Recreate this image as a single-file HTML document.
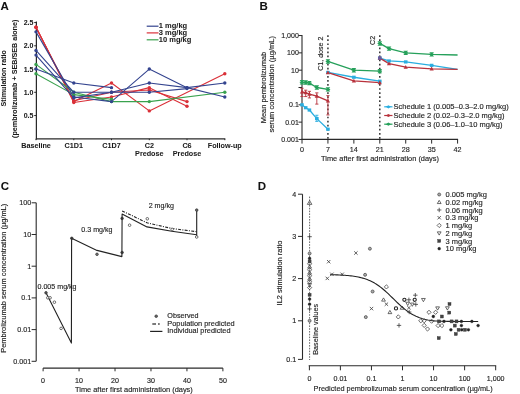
<!DOCTYPE html>
<html><head><meta charset="utf-8"><style>
html,body{margin:0;padding:0;background:#fff;}
svg{display:block;font-family:"Liberation Sans", sans-serif;filter:blur(0.4px);}
</style></head><body>
<svg width="520" height="394" viewBox="0 0 520 394">
<rect width="520" height="394" fill="#fff"/>
<text x="0.40" y="9.70" font-size="11.5" font-weight="bold" text-anchor="start" fill="#111" stroke="#111" stroke-width="0.05">A</text>
<line x1="36.40" y1="21.50" x2="36.40" y2="139.50" stroke="#2a2a2a" stroke-width="1.25"/>
<line x1="35.90" y1="138.90" x2="225.30" y2="138.90" stroke="#2a2a2a" stroke-width="1.25"/>
<line x1="34.20" y1="22.55" x2="36.40" y2="22.55" stroke="#2a2a2a" stroke-width="1"/>
<text x="33.40" y="25.05" font-size="7" font-weight="bold" text-anchor="end" fill="#1a1a1a" stroke="#1a1a1a" stroke-width="0.05">2.5</text>
<line x1="34.20" y1="45.80" x2="36.40" y2="45.80" stroke="#2a2a2a" stroke-width="1"/>
<text x="33.40" y="48.30" font-size="7" font-weight="bold" text-anchor="end" fill="#1a1a1a" stroke="#1a1a1a" stroke-width="0.05">2.0</text>
<line x1="34.20" y1="69.05" x2="36.40" y2="69.05" stroke="#2a2a2a" stroke-width="1"/>
<text x="33.40" y="71.55" font-size="7" font-weight="bold" text-anchor="end" fill="#1a1a1a" stroke="#1a1a1a" stroke-width="0.05">1.5</text>
<line x1="34.20" y1="92.30" x2="36.40" y2="92.30" stroke="#2a2a2a" stroke-width="1"/>
<text x="33.40" y="94.80" font-size="7" font-weight="bold" text-anchor="end" fill="#1a1a1a" stroke="#1a1a1a" stroke-width="0.05">1.0</text>
<line x1="34.20" y1="115.55" x2="36.40" y2="115.55" stroke="#2a2a2a" stroke-width="1"/>
<text x="33.40" y="118.05" font-size="7" font-weight="bold" text-anchor="end" fill="#1a1a1a" stroke="#1a1a1a" stroke-width="0.05">0.5</text>
<line x1="36.00" y1="138.80" x2="36.00" y2="140.20" stroke="#2a2a2a" stroke-width="1"/>
<line x1="73.80" y1="138.80" x2="73.80" y2="140.20" stroke="#2a2a2a" stroke-width="1"/>
<line x1="111.50" y1="138.80" x2="111.50" y2="140.20" stroke="#2a2a2a" stroke-width="1"/>
<line x1="149.30" y1="138.80" x2="149.30" y2="140.20" stroke="#2a2a2a" stroke-width="1"/>
<line x1="187.00" y1="138.80" x2="187.00" y2="140.20" stroke="#2a2a2a" stroke-width="1"/>
<line x1="224.80" y1="138.80" x2="224.80" y2="140.20" stroke="#2a2a2a" stroke-width="1"/>
<text x="36.00" y="148.20" font-size="7.2" font-weight="bold" text-anchor="middle" fill="#1a1a1a" stroke="#1a1a1a" stroke-width="0.05">Baseline</text>
<text x="73.80" y="148.20" font-size="7.2" font-weight="bold" text-anchor="middle" fill="#1a1a1a" stroke="#1a1a1a" stroke-width="0.05">C1D1</text>
<text x="111.50" y="148.20" font-size="7.2" font-weight="bold" text-anchor="middle" fill="#1a1a1a" stroke="#1a1a1a" stroke-width="0.05">C1D7</text>
<text x="149.30" y="148.20" font-size="7.2" font-weight="bold" text-anchor="middle" fill="#1a1a1a" stroke="#1a1a1a" stroke-width="0.05">C2</text>
<text x="149.30" y="155.70" font-size="7.2" font-weight="bold" text-anchor="middle" fill="#1a1a1a" stroke="#1a1a1a" stroke-width="0.05">Predose</text>
<text x="187.00" y="148.20" font-size="7.2" font-weight="bold" text-anchor="middle" fill="#1a1a1a" stroke="#1a1a1a" stroke-width="0.05">C6</text>
<text x="187.00" y="155.70" font-size="7.2" font-weight="bold" text-anchor="middle" fill="#1a1a1a" stroke="#1a1a1a" stroke-width="0.05">Predose</text>
<text x="224.80" y="148.20" font-size="7.2" font-weight="bold" text-anchor="middle" fill="#1a1a1a" stroke="#1a1a1a" stroke-width="0.05">Follow-up</text>
<text x="5.90" y="106.40" font-size="7.4" font-weight="bold" text-anchor="start" fill="#1a1a1a" stroke="#1a1a1a" stroke-width="0.05" transform="rotate(-90 5.90 106.40)" textLength="56.3" lengthAdjust="spacingAndGlyphs">Stimulation ratio</text>
<text x="16.50" y="138.00" font-size="7.4" font-weight="bold" text-anchor="start" fill="#1a1a1a" stroke="#1a1a1a" stroke-width="0.05" transform="rotate(-90 16.50 138.00)" textLength="118.3" lengthAdjust="spacingAndGlyphs">(pembrolizumab + SEB/SEB alone)</text>
<line x1="146.70" y1="26.20" x2="158.50" y2="26.20" stroke="#34448f" stroke-width="1.2"/>
<text x="158.80" y="28.30" font-size="7.5" font-weight="bold" text-anchor="start" fill="#1a1a1a" stroke="#1a1a1a" stroke-width="0.05">1 mg/kg</text>
<line x1="146.70" y1="32.90" x2="158.50" y2="32.90" stroke="#da3038" stroke-width="1.2"/>
<text x="158.80" y="35.00" font-size="7.5" font-weight="bold" text-anchor="start" fill="#1a1a1a" stroke="#1a1a1a" stroke-width="0.05">3 mg/kg</text>
<line x1="146.70" y1="39.80" x2="158.50" y2="39.80" stroke="#3aa24e" stroke-width="1.2"/>
<text x="158.80" y="41.70" font-size="7.5" font-weight="bold" text-anchor="start" fill="#1a1a1a" stroke="#1a1a1a" stroke-width="0.05">10 mg/kg</text>
<polyline points="36.00,27.20 73.80,101.60 111.50,83.00 149.30,110.90 224.80,73.70" fill="none" stroke="#da3038" stroke-width="1.1" stroke-linejoin="round"/>
<polyline points="36.00,27.20 73.80,102.53 111.50,96.95 149.30,87.65 187.00,106.25" fill="none" stroke="#da3038" stroke-width="1.1" stroke-linejoin="round"/>
<polyline points="36.00,27.20 73.80,100.67 111.50,92.30 149.30,89.98 187.00,101.60" fill="none" stroke="#da3038" stroke-width="1.1" stroke-linejoin="round"/>
<polyline points="36.00,64.40 73.80,92.30 111.50,101.60 149.30,101.60 224.80,92.30" fill="none" stroke="#3aa24e" stroke-width="1.1" stroke-linejoin="round"/>
<polyline points="36.00,73.70 73.80,94.63 111.50,99.28" fill="none" stroke="#3aa24e" stroke-width="1.1" stroke-linejoin="round"/>
<polyline points="36.00,31.85 73.80,96.95 111.50,101.60 149.30,69.05 187.00,87.65 224.80,96.95" fill="none" stroke="#34448f" stroke-width="1.1" stroke-linejoin="round"/>
<polyline points="36.00,50.45 73.80,92.30 111.50,92.30 149.30,83.00 187.00,87.65 224.80,83.00" fill="none" stroke="#34448f" stroke-width="1.1" stroke-linejoin="round"/>
<polyline points="36.00,55.10 73.80,97.88 111.50,92.30 149.30,92.30 187.00,88.58" fill="none" stroke="#34448f" stroke-width="1.1" stroke-linejoin="round"/>
<polyline points="36.00,69.05 73.80,83.00 111.50,87.65" fill="none" stroke="#34448f" stroke-width="1.1" stroke-linejoin="round"/>
<circle cx="36.00" cy="27.20" r="1.7" fill="#da3038" stroke="none" stroke-width="0.6"/>
<circle cx="73.80" cy="101.60" r="1.7" fill="#da3038" stroke="none" stroke-width="0.6"/>
<circle cx="111.50" cy="83.00" r="1.7" fill="#da3038" stroke="none" stroke-width="0.6"/>
<circle cx="149.30" cy="110.90" r="1.7" fill="#da3038" stroke="none" stroke-width="0.6"/>
<circle cx="224.80" cy="73.70" r="1.7" fill="#da3038" stroke="none" stroke-width="0.6"/>
<circle cx="36.00" cy="27.20" r="1.7" fill="#da3038" stroke="none" stroke-width="0.6"/>
<circle cx="73.80" cy="102.53" r="1.7" fill="#da3038" stroke="none" stroke-width="0.6"/>
<circle cx="111.50" cy="96.95" r="1.7" fill="#da3038" stroke="none" stroke-width="0.6"/>
<circle cx="149.30" cy="87.65" r="1.7" fill="#da3038" stroke="none" stroke-width="0.6"/>
<circle cx="187.00" cy="106.25" r="1.7" fill="#da3038" stroke="none" stroke-width="0.6"/>
<circle cx="36.00" cy="27.20" r="1.7" fill="#da3038" stroke="none" stroke-width="0.6"/>
<circle cx="73.80" cy="100.67" r="1.7" fill="#da3038" stroke="none" stroke-width="0.6"/>
<circle cx="111.50" cy="92.30" r="1.7" fill="#da3038" stroke="none" stroke-width="0.6"/>
<circle cx="149.30" cy="89.98" r="1.7" fill="#da3038" stroke="none" stroke-width="0.6"/>
<circle cx="187.00" cy="101.60" r="1.7" fill="#da3038" stroke="none" stroke-width="0.6"/>
<circle cx="36.00" cy="64.40" r="1.7" fill="#3aa24e" stroke="none" stroke-width="0.6"/>
<circle cx="73.80" cy="92.30" r="1.7" fill="#3aa24e" stroke="none" stroke-width="0.6"/>
<circle cx="111.50" cy="101.60" r="1.7" fill="#3aa24e" stroke="none" stroke-width="0.6"/>
<circle cx="149.30" cy="101.60" r="1.7" fill="#3aa24e" stroke="none" stroke-width="0.6"/>
<circle cx="224.80" cy="92.30" r="1.7" fill="#3aa24e" stroke="none" stroke-width="0.6"/>
<circle cx="36.00" cy="73.70" r="1.7" fill="#3aa24e" stroke="none" stroke-width="0.6"/>
<circle cx="73.80" cy="94.63" r="1.7" fill="#3aa24e" stroke="none" stroke-width="0.6"/>
<circle cx="111.50" cy="99.28" r="1.7" fill="#3aa24e" stroke="none" stroke-width="0.6"/>
<circle cx="36.00" cy="31.85" r="1.7" fill="#34448f" stroke="none" stroke-width="0.6"/>
<circle cx="73.80" cy="96.95" r="1.7" fill="#34448f" stroke="none" stroke-width="0.6"/>
<circle cx="111.50" cy="101.60" r="1.7" fill="#34448f" stroke="none" stroke-width="0.6"/>
<circle cx="149.30" cy="69.05" r="1.7" fill="#34448f" stroke="none" stroke-width="0.6"/>
<circle cx="187.00" cy="87.65" r="1.7" fill="#34448f" stroke="none" stroke-width="0.6"/>
<circle cx="224.80" cy="96.95" r="1.7" fill="#34448f" stroke="none" stroke-width="0.6"/>
<circle cx="36.00" cy="50.45" r="1.7" fill="#34448f" stroke="none" stroke-width="0.6"/>
<circle cx="73.80" cy="92.30" r="1.7" fill="#34448f" stroke="none" stroke-width="0.6"/>
<circle cx="111.50" cy="92.30" r="1.7" fill="#34448f" stroke="none" stroke-width="0.6"/>
<circle cx="149.30" cy="83.00" r="1.7" fill="#34448f" stroke="none" stroke-width="0.6"/>
<circle cx="187.00" cy="87.65" r="1.7" fill="#34448f" stroke="none" stroke-width="0.6"/>
<circle cx="224.80" cy="83.00" r="1.7" fill="#34448f" stroke="none" stroke-width="0.6"/>
<circle cx="36.00" cy="55.10" r="1.7" fill="#34448f" stroke="none" stroke-width="0.6"/>
<circle cx="73.80" cy="97.88" r="1.7" fill="#34448f" stroke="none" stroke-width="0.6"/>
<circle cx="111.50" cy="92.30" r="1.7" fill="#34448f" stroke="none" stroke-width="0.6"/>
<circle cx="149.30" cy="92.30" r="1.7" fill="#34448f" stroke="none" stroke-width="0.6"/>
<circle cx="187.00" cy="88.58" r="1.7" fill="#34448f" stroke="none" stroke-width="0.6"/>
<circle cx="36.00" cy="69.05" r="1.7" fill="#34448f" stroke="none" stroke-width="0.6"/>
<circle cx="73.80" cy="83.00" r="1.7" fill="#34448f" stroke="none" stroke-width="0.6"/>
<circle cx="111.50" cy="87.65" r="1.7" fill="#34448f" stroke="none" stroke-width="0.6"/>
<text x="259.60" y="9.70" font-size="11.5" font-weight="bold" text-anchor="start" fill="#111" stroke="#111" stroke-width="0.05">B</text>
<line x1="302.00" y1="35.00" x2="302.00" y2="139.60" stroke="#2a2a2a" stroke-width="1.1"/>
<line x1="301.50" y1="139.40" x2="458.08" y2="139.40" stroke="#2a2a2a" stroke-width="1.1"/>
<line x1="298.50" y1="35.54" x2="302.00" y2="35.54" stroke="#2a2a2a" stroke-width="1"/>
<text x="298.80" y="38.04" font-size="7" text-anchor="end" fill="#1e1e1e" stroke="#1e1e1e" stroke-width="0.14">1,000</text>
<line x1="298.50" y1="52.86" x2="302.00" y2="52.86" stroke="#2a2a2a" stroke-width="1"/>
<text x="298.80" y="55.36" font-size="7" text-anchor="end" fill="#1e1e1e" stroke="#1e1e1e" stroke-width="0.14">100</text>
<line x1="298.50" y1="70.18" x2="302.00" y2="70.18" stroke="#2a2a2a" stroke-width="1"/>
<text x="298.80" y="72.68" font-size="7" text-anchor="end" fill="#1e1e1e" stroke="#1e1e1e" stroke-width="0.14">10</text>
<line x1="298.50" y1="87.50" x2="302.00" y2="87.50" stroke="#2a2a2a" stroke-width="1"/>
<line x1="298.50" y1="104.82" x2="302.00" y2="104.82" stroke="#2a2a2a" stroke-width="1"/>
<text x="298.80" y="107.32" font-size="7" text-anchor="end" fill="#1e1e1e" stroke="#1e1e1e" stroke-width="0.14">0.1</text>
<line x1="298.50" y1="122.14" x2="302.00" y2="122.14" stroke="#2a2a2a" stroke-width="1"/>
<text x="298.80" y="124.64" font-size="7" text-anchor="end" fill="#1e1e1e" stroke="#1e1e1e" stroke-width="0.14">0.01</text>
<line x1="298.50" y1="139.46" x2="302.00" y2="139.46" stroke="#2a2a2a" stroke-width="1"/>
<text x="298.80" y="141.96" font-size="7" text-anchor="end" fill="#1e1e1e" stroke="#1e1e1e" stroke-width="0.14">0.001</text>
<line x1="302.00" y1="139.40" x2="302.00" y2="143.60" stroke="#2a2a2a" stroke-width="1"/>
<text x="302.00" y="151.70" font-size="7.2" text-anchor="middle" fill="#1e1e1e" stroke="#1e1e1e" stroke-width="0.14">0</text>
<line x1="327.93" y1="139.40" x2="327.93" y2="143.60" stroke="#2a2a2a" stroke-width="1"/>
<text x="327.93" y="151.70" font-size="7.2" text-anchor="middle" fill="#1e1e1e" stroke="#1e1e1e" stroke-width="0.14">7</text>
<line x1="353.86" y1="139.40" x2="353.86" y2="143.60" stroke="#2a2a2a" stroke-width="1"/>
<text x="353.86" y="151.70" font-size="7.2" text-anchor="middle" fill="#1e1e1e" stroke="#1e1e1e" stroke-width="0.14">14</text>
<line x1="379.79" y1="139.40" x2="379.79" y2="143.60" stroke="#2a2a2a" stroke-width="1"/>
<text x="379.79" y="151.70" font-size="7.2" text-anchor="middle" fill="#1e1e1e" stroke="#1e1e1e" stroke-width="0.14">21</text>
<line x1="405.72" y1="139.40" x2="405.72" y2="143.60" stroke="#2a2a2a" stroke-width="1"/>
<text x="405.72" y="151.70" font-size="7.2" text-anchor="middle" fill="#1e1e1e" stroke="#1e1e1e" stroke-width="0.14">28</text>
<line x1="431.65" y1="139.40" x2="431.65" y2="143.60" stroke="#2a2a2a" stroke-width="1"/>
<text x="431.65" y="151.70" font-size="7.2" text-anchor="middle" fill="#1e1e1e" stroke="#1e1e1e" stroke-width="0.14">35</text>
<line x1="457.58" y1="139.40" x2="457.58" y2="143.60" stroke="#2a2a2a" stroke-width="1"/>
<text x="457.58" y="151.70" font-size="7.2" text-anchor="middle" fill="#1e1e1e" stroke="#1e1e1e" stroke-width="0.14">42</text>
<text x="321.00" y="161.20" font-size="7.5" text-anchor="start" fill="#1e1e1e" stroke="#1e1e1e" stroke-width="0.14" textLength="118.0" lengthAdjust="spacingAndGlyphs">Time after first administration (days)</text>
<text x="265.60" y="123.20" font-size="7.5" text-anchor="start" fill="#1e1e1e" stroke="#1e1e1e" stroke-width="0.14" transform="rotate(-90 265.60 123.20)" textLength="71.4" lengthAdjust="spacingAndGlyphs">Mean pembrolizumab</text>
<text x="273.80" y="132.60" font-size="7.5" text-anchor="start" fill="#1e1e1e" stroke="#1e1e1e" stroke-width="0.14" transform="rotate(-90 273.80 132.60)" textLength="96.6" lengthAdjust="spacingAndGlyphs">serum concentration (µg/mL)</text>
<line x1="327.93" y1="35.25" x2="327.93" y2="139.40" stroke="#333" stroke-width="1.5" stroke-dasharray="1.7 2.37"/>
<line x1="379.79" y1="35.25" x2="379.79" y2="139.40" stroke="#333" stroke-width="1.5" stroke-dasharray="1.7 2.37"/>
<text x="323.20" y="70.80" font-size="7.1" text-anchor="start" fill="#1e1e1e" stroke="#1e1e1e" stroke-width="0.14" transform="rotate(-90 323.20 70.80)" textLength="34.2" lengthAdjust="spacingAndGlyphs">C1, dose 2</text>
<text x="375.50" y="44.90" font-size="7.1" text-anchor="start" fill="#1e1e1e" stroke="#1e1e1e" stroke-width="0.14" transform="rotate(-90 375.50 44.90)">C2</text>
<polyline points="302.00,104.82 305.70,107.72 309.41,110.03 316.82,118.60 327.93,129.22" fill="none" stroke="#2aaee0" stroke-width="1.3" stroke-linejoin="round"/>
<polyline points="327.93,72.44 353.86,77.26 379.79,81.23" fill="none" stroke="#2aaee0" stroke-width="1.3" stroke-linejoin="round"/>
<polyline points="379.79,58.07 389.05,60.97 405.72,61.92 431.65,65.35 457.58,69.46" fill="none" stroke="#2aaee0" stroke-width="1.3" stroke-linejoin="round"/>
<polyline points="302.00,92.00 305.70,92.71 309.41,94.03 316.82,96.07 327.93,100.83" fill="none" stroke="#b8323c" stroke-width="1.3" stroke-linejoin="round"/>
<polyline points="327.93,72.65 353.86,80.91 379.79,82.67" fill="none" stroke="#b8323c" stroke-width="1.3" stroke-linejoin="round"/>
<polyline points="379.79,58.07 389.05,63.59 405.72,67.13 431.65,68.81 457.58,69.46" fill="none" stroke="#b8323c" stroke-width="1.3" stroke-linejoin="round"/>
<polyline points="302.00,82.29 305.70,82.48 309.41,83.08 316.82,87.50 327.93,89.37" fill="none" stroke="#25a05a" stroke-width="1.3" stroke-linejoin="round"/>
<polyline points="327.93,61.43 353.86,70.18 379.79,71.14" fill="none" stroke="#25a05a" stroke-width="1.3" stroke-linejoin="round"/>
<polyline points="379.79,43.44 389.05,48.65 405.72,52.86 431.65,54.35 457.58,55.02" fill="none" stroke="#25a05a" stroke-width="1.3" stroke-linejoin="round"/>
<line x1="302.00" y1="88.29" x2="302.00" y2="96.56" stroke="#b8323c" stroke-width="0.9"/>
<line x1="300.40" y1="88.29" x2="303.60" y2="88.29" stroke="#b8323c" stroke-width="0.9"/>
<line x1="300.40" y1="96.56" x2="303.60" y2="96.56" stroke="#b8323c" stroke-width="0.9"/>
<line x1="305.70" y1="90.18" x2="305.70" y2="96.56" stroke="#b8323c" stroke-width="0.9"/>
<line x1="304.10" y1="90.18" x2="307.30" y2="90.18" stroke="#b8323c" stroke-width="0.9"/>
<line x1="304.10" y1="96.56" x2="307.30" y2="96.56" stroke="#b8323c" stroke-width="0.9"/>
<line x1="309.41" y1="91.34" x2="309.41" y2="97.93" stroke="#b8323c" stroke-width="0.9"/>
<line x1="307.81" y1="91.34" x2="311.01" y2="91.34" stroke="#b8323c" stroke-width="0.9"/>
<line x1="307.81" y1="97.93" x2="311.01" y2="97.93" stroke="#b8323c" stroke-width="0.9"/>
<line x1="316.82" y1="92.87" x2="316.82" y2="104.10" stroke="#b8323c" stroke-width="0.9"/>
<line x1="315.22" y1="92.87" x2="318.42" y2="92.87" stroke="#b8323c" stroke-width="0.9"/>
<line x1="315.22" y1="104.10" x2="318.42" y2="104.10" stroke="#b8323c" stroke-width="0.9"/>
<line x1="327.93" y1="95.61" x2="327.93" y2="114.95" stroke="#b8323c" stroke-width="0.9"/>
<line x1="326.33" y1="95.61" x2="329.53" y2="95.61" stroke="#b8323c" stroke-width="0.9"/>
<line x1="326.33" y1="114.95" x2="329.53" y2="114.95" stroke="#b8323c" stroke-width="0.9"/>
<line x1="316.82" y1="115.25" x2="316.82" y2="121.42" stroke="#2aaee0" stroke-width="0.9"/>
<line x1="315.22" y1="115.25" x2="318.42" y2="115.25" stroke="#2aaee0" stroke-width="0.9"/>
<line x1="315.22" y1="121.42" x2="318.42" y2="121.42" stroke="#2aaee0" stroke-width="0.9"/>
<rect x="300.20" y="103.22" width="3.6" height="3.2" fill="#2aaee0"/>
<rect x="303.90" y="106.12" width="3.6" height="3.2" fill="#2aaee0"/>
<rect x="307.61" y="108.43" width="3.6" height="3.2" fill="#2aaee0"/>
<rect x="315.02" y="117.00" width="3.6" height="3.2" fill="#2aaee0"/>
<rect x="326.13" y="127.62" width="3.6" height="3.2" fill="#2aaee0"/>
<rect x="326.13" y="70.84" width="3.6" height="3.2" fill="#2aaee0"/>
<rect x="352.06" y="75.66" width="3.6" height="3.2" fill="#2aaee0"/>
<rect x="377.99" y="79.63" width="3.6" height="3.2" fill="#2aaee0"/>
<rect x="377.99" y="56.47" width="3.6" height="3.2" fill="#2aaee0"/>
<rect x="387.25" y="59.37" width="3.6" height="3.2" fill="#2aaee0"/>
<rect x="403.92" y="60.32" width="3.6" height="3.2" fill="#2aaee0"/>
<rect x="429.85" y="63.75" width="3.6" height="3.2" fill="#2aaee0"/>
<path d="M302.00,89.80 L304.10,93.60 L299.90,93.60 Z" fill="#b8323c"/>
<path d="M305.70,90.51 L307.80,94.31 L303.60,94.31 Z" fill="#b8323c"/>
<path d="M309.41,91.83 L311.51,95.63 L307.31,95.63 Z" fill="#b8323c"/>
<path d="M316.82,93.87 L318.92,97.67 L314.72,97.67 Z" fill="#b8323c"/>
<path d="M327.93,98.63 L330.03,102.43 L325.83,102.43 Z" fill="#b8323c"/>
<path d="M327.93,70.45 L330.03,74.25 L325.83,74.25 Z" fill="#b8323c"/>
<path d="M353.86,78.71 L355.96,82.51 L351.76,82.51 Z" fill="#b8323c"/>
<path d="M379.79,80.47 L381.89,84.27 L377.69,84.27 Z" fill="#b8323c"/>
<path d="M379.79,55.87 L381.89,59.67 L377.69,59.67 Z" fill="#b8323c"/>
<path d="M389.05,61.39 L391.15,65.19 L386.95,65.19 Z" fill="#b8323c"/>
<path d="M405.72,64.93 L407.82,68.73 L403.62,68.73 Z" fill="#b8323c"/>
<path d="M431.65,66.61 L433.75,70.41 L429.55,70.41 Z" fill="#b8323c"/>
<path d="M299.70,80.09 H304.30 L302.70,82.29 L304.30,84.49 H299.70 L301.30,82.29 Z" fill="#25a05a"/>
<line x1="299.80" y1="82.29" x2="304.20" y2="82.29" stroke="#25a05a" stroke-width="1.2"/>
<path d="M303.40,80.28 H308.00 L306.40,82.48 L308.00,84.68 H303.40 L305.00,82.48 Z" fill="#25a05a"/>
<line x1="303.50" y1="82.48" x2="307.90" y2="82.48" stroke="#25a05a" stroke-width="1.2"/>
<path d="M307.11,80.88 H311.71 L310.11,83.08 L311.71,85.28 H307.11 L308.71,83.08 Z" fill="#25a05a"/>
<line x1="307.21" y1="83.08" x2="311.61" y2="83.08" stroke="#25a05a" stroke-width="1.2"/>
<path d="M314.52,85.30 H319.12 L317.52,87.50 L319.12,89.70 H314.52 L316.12,87.50 Z" fill="#25a05a"/>
<line x1="314.62" y1="87.50" x2="319.02" y2="87.50" stroke="#25a05a" stroke-width="1.2"/>
<path d="M325.63,87.17 H330.23 L328.63,89.37 L330.23,91.57 H325.63 L327.23,89.37 Z" fill="#25a05a"/>
<line x1="325.73" y1="89.37" x2="330.13" y2="89.37" stroke="#25a05a" stroke-width="1.2"/>
<path d="M325.63,59.23 H330.23 L328.63,61.43 L330.23,63.63 H325.63 L327.23,61.43 Z" fill="#25a05a"/>
<line x1="325.73" y1="61.43" x2="330.13" y2="61.43" stroke="#25a05a" stroke-width="1.2"/>
<path d="M351.56,67.98 H356.16 L354.56,70.18 L356.16,72.38 H351.56 L353.16,70.18 Z" fill="#25a05a"/>
<line x1="351.66" y1="70.18" x2="356.06" y2="70.18" stroke="#25a05a" stroke-width="1.2"/>
<path d="M377.49,68.94 H382.09 L380.49,71.14 L382.09,73.34 H377.49 L379.09,71.14 Z" fill="#25a05a"/>
<line x1="377.59" y1="71.14" x2="381.99" y2="71.14" stroke="#25a05a" stroke-width="1.2"/>
<path d="M377.49,41.24 H382.09 L380.49,43.44 L382.09,45.64 H377.49 L379.09,43.44 Z" fill="#25a05a"/>
<line x1="377.59" y1="43.44" x2="381.99" y2="43.44" stroke="#25a05a" stroke-width="1.2"/>
<path d="M386.75,46.45 H391.35 L389.75,48.65 L391.35,50.85 H386.75 L388.35,48.65 Z" fill="#25a05a"/>
<line x1="386.85" y1="48.65" x2="391.25" y2="48.65" stroke="#25a05a" stroke-width="1.2"/>
<path d="M403.42,50.66 H408.02 L406.42,52.86 L408.02,55.06 H403.42 L405.02,52.86 Z" fill="#25a05a"/>
<line x1="403.52" y1="52.86" x2="407.92" y2="52.86" stroke="#25a05a" stroke-width="1.2"/>
<path d="M429.35,52.15 H433.95 L432.35,54.35 L433.95,56.55 H429.35 L430.95,54.35 Z" fill="#25a05a"/>
<line x1="429.45" y1="54.35" x2="433.85" y2="54.35" stroke="#25a05a" stroke-width="1.2"/>
<rect x="377.99" y="56.47" width="3.6" height="3.2" fill="#6a5a9e"/>
<line x1="384.20" y1="106.80" x2="392.50" y2="106.80" stroke="#2aaee0" stroke-width="1.2"/>
<path d="M385.80,106.80 L388.40,105.20 L391.00,106.80 L388.40,108.40 Z" fill="#2aaee0"/>
<text x="393.60" y="109.40" font-size="7.5" text-anchor="start" fill="#1e1e1e" stroke="#1e1e1e" stroke-width="0.14">Schedule 1 (0.005–0.3–2.0 mg/kg)</text>
<line x1="384.20" y1="115.50" x2="392.50" y2="115.50" stroke="#b8323c" stroke-width="1.2"/>
<path d="M385.80,115.50 L388.40,113.90 L391.00,115.50 L388.40,117.10 Z" fill="#b8323c"/>
<text x="393.60" y="118.10" font-size="7.5" text-anchor="start" fill="#1e1e1e" stroke="#1e1e1e" stroke-width="0.14">Schedule 2 (0.02–0.3–2.0 mg/kg)</text>
<line x1="384.20" y1="124.20" x2="392.50" y2="124.20" stroke="#25a05a" stroke-width="1.2"/>
<path d="M385.80,124.20 L388.40,122.60 L391.00,124.20 L388.40,125.80 Z" fill="#25a05a"/>
<text x="393.60" y="126.80" font-size="7.5" text-anchor="start" fill="#1e1e1e" stroke="#1e1e1e" stroke-width="0.14">Schedule 3 (0.06–1.0–10 mg/kg)</text>
<text x="0.70" y="190.00" font-size="11.5" font-weight="bold" text-anchor="start" fill="#111" stroke="#111" stroke-width="0.05">C</text>
<line x1="36.20" y1="202.80" x2="36.20" y2="361.30" stroke="#2a2a2a" stroke-width="1.1"/>
<line x1="31.60" y1="202.80" x2="36.20" y2="202.80" stroke="#2a2a2a" stroke-width="1"/>
<text x="31.20" y="205.30" font-size="7.2" text-anchor="end" fill="#1e1e1e" stroke="#1e1e1e" stroke-width="0.14">100</text>
<line x1="31.60" y1="234.50" x2="36.20" y2="234.50" stroke="#2a2a2a" stroke-width="1"/>
<text x="31.20" y="237.00" font-size="7.2" text-anchor="end" fill="#1e1e1e" stroke="#1e1e1e" stroke-width="0.14">10</text>
<line x1="31.60" y1="266.20" x2="36.20" y2="266.20" stroke="#2a2a2a" stroke-width="1"/>
<text x="31.20" y="268.70" font-size="7.2" text-anchor="end" fill="#1e1e1e" stroke="#1e1e1e" stroke-width="0.14">1</text>
<line x1="31.60" y1="297.90" x2="36.20" y2="297.90" stroke="#2a2a2a" stroke-width="1"/>
<text x="31.20" y="300.40" font-size="7.2" text-anchor="end" fill="#1e1e1e" stroke="#1e1e1e" stroke-width="0.14">0.1</text>
<line x1="31.60" y1="329.60" x2="36.20" y2="329.60" stroke="#2a2a2a" stroke-width="1"/>
<text x="31.20" y="332.10" font-size="7.2" text-anchor="end" fill="#1e1e1e" stroke="#1e1e1e" stroke-width="0.14">0.01</text>
<line x1="31.60" y1="361.30" x2="36.20" y2="361.30" stroke="#2a2a2a" stroke-width="1"/>
<text x="31.20" y="363.80" font-size="7.2" text-anchor="end" fill="#1e1e1e" stroke="#1e1e1e" stroke-width="0.14">0.001</text>
<line x1="43.10" y1="368.10" x2="222.90" y2="368.10" stroke="#2a2a2a" stroke-width="1.1"/>
<line x1="43.10" y1="368.10" x2="43.10" y2="371.30" stroke="#2a2a2a" stroke-width="1"/>
<text x="43.10" y="383.00" font-size="7.1" text-anchor="middle" fill="#1e1e1e" stroke="#1e1e1e" stroke-width="0.14">0</text>
<line x1="79.06" y1="368.10" x2="79.06" y2="371.30" stroke="#2a2a2a" stroke-width="1"/>
<text x="79.06" y="383.00" font-size="7.1" text-anchor="middle" fill="#1e1e1e" stroke="#1e1e1e" stroke-width="0.14">10</text>
<line x1="115.02" y1="368.10" x2="115.02" y2="371.30" stroke="#2a2a2a" stroke-width="1"/>
<text x="115.02" y="383.00" font-size="7.1" text-anchor="middle" fill="#1e1e1e" stroke="#1e1e1e" stroke-width="0.14">20</text>
<line x1="150.98" y1="368.10" x2="150.98" y2="371.30" stroke="#2a2a2a" stroke-width="1"/>
<text x="150.98" y="383.00" font-size="7.1" text-anchor="middle" fill="#1e1e1e" stroke="#1e1e1e" stroke-width="0.14">30</text>
<line x1="186.94" y1="368.10" x2="186.94" y2="371.30" stroke="#2a2a2a" stroke-width="1"/>
<text x="186.94" y="383.00" font-size="7.1" text-anchor="middle" fill="#1e1e1e" stroke="#1e1e1e" stroke-width="0.14">40</text>
<line x1="222.90" y1="368.10" x2="222.90" y2="371.30" stroke="#2a2a2a" stroke-width="1"/>
<text x="222.90" y="383.00" font-size="7.1" text-anchor="middle" fill="#1e1e1e" stroke="#1e1e1e" stroke-width="0.14">50</text>
<text x="75.00" y="392.10" font-size="7.4" text-anchor="start" fill="#1e1e1e" stroke="#1e1e1e" stroke-width="0.14" textLength="117.8" lengthAdjust="spacingAndGlyphs">Time after first administration (days)</text>
<text x="6.30" y="352.80" font-size="7.4" text-anchor="start" fill="#1e1e1e" stroke="#1e1e1e" stroke-width="0.14" transform="rotate(-90 6.30 352.80)" textLength="149.0" lengthAdjust="spacingAndGlyphs">Pembrolizumab serum concentration (µg/mL)</text>
<polyline points="46.00,292.80 71.40,343.10 71.60,238.30 97.00,250.40 121.90,256.60 122.10,214.00 147.00,226.90 171.80,231.20 196.70,234.70" fill="none" stroke="#222" stroke-width="1.1" stroke-linejoin="round"/>
<polyline points="122.10,210.90 147.00,222.80 172.00,228.50 196.70,231.70" fill="none" stroke="#222" stroke-width="1.1" stroke-linejoin="round" stroke-dasharray="3 1.3 1 1.3"/>
<line x1="196.70" y1="210.10" x2="196.70" y2="237.00" stroke="#222" stroke-width="1.1"/>
<circle cx="46.00" cy="292.80" r="1.3" fill="#555" stroke="#333" stroke-width="0.7"/>
<circle cx="47.80" cy="297.80" r="1.3" fill="#fff" stroke="#333" stroke-width="0.7"/>
<circle cx="50.10" cy="297.80" r="1.3" fill="#fff" stroke="#333" stroke-width="0.7"/>
<circle cx="54.40" cy="302.20" r="1.3" fill="#fff" stroke="#333" stroke-width="0.7"/>
<circle cx="61.10" cy="328.40" r="1.3" fill="#fff" stroke="#333" stroke-width="0.7"/>
<circle cx="71.80" cy="238.30" r="1.3" fill="#333" stroke="#333" stroke-width="0.7"/>
<circle cx="97.00" cy="254.30" r="1.3" fill="#777" stroke="#333" stroke-width="0.7"/>
<circle cx="122.10" cy="218.40" r="1.3" fill="#333" stroke="#333" stroke-width="0.7"/>
<circle cx="122.10" cy="252.50" r="1.3" fill="#333" stroke="#333" stroke-width="0.7"/>
<circle cx="129.60" cy="225.20" r="1.3" fill="#fff" stroke="#333" stroke-width="0.7"/>
<circle cx="147.30" cy="218.80" r="1.3" fill="#fff" stroke="#333" stroke-width="0.7"/>
<circle cx="172.20" cy="229.40" r="1.3" fill="#fff" stroke="#333" stroke-width="0.7"/>
<circle cx="196.70" cy="210.10" r="1.3" fill="#666" stroke="#333" stroke-width="0.7"/>
<circle cx="196.70" cy="237.00" r="1.3" fill="#fff" stroke="#333" stroke-width="0.7"/>
<text x="37.50" y="289.00" font-size="7.1" text-anchor="start" fill="#1e1e1e" stroke="#1e1e1e" stroke-width="0.14">0.005 mg/kg</text>
<text x="81.30" y="231.80" font-size="7.1" text-anchor="start" fill="#1e1e1e" stroke="#1e1e1e" stroke-width="0.14">0.3 mg/kg</text>
<text x="148.70" y="208.00" font-size="7.1" text-anchor="start" fill="#1e1e1e" stroke="#1e1e1e" stroke-width="0.14">2 mg/kg</text>
<circle cx="156.20" cy="316.20" r="1.3" fill="#666" stroke="#333" stroke-width="0.7"/>
<text x="167.30" y="317.60" font-size="7.3" text-anchor="start" fill="#1e1e1e" stroke="#1e1e1e" stroke-width="0.14" textLength="31.2" lengthAdjust="spacingAndGlyphs">Observed</text>
<line x1="152.30" y1="324.00" x2="156.00" y2="324.00" stroke="#222" stroke-width="1.2"/>
<line x1="158.20" y1="324.00" x2="159.60" y2="324.00" stroke="#222" stroke-width="1.3"/>
<text x="167.30" y="325.80" font-size="7.4" text-anchor="start" fill="#1e1e1e" stroke="#1e1e1e" stroke-width="0.14" textLength="67.3" lengthAdjust="spacingAndGlyphs">Population predicted</text>
<line x1="150.10" y1="331.40" x2="162.40" y2="331.40" stroke="#222" stroke-width="1.2"/>
<text x="167.30" y="333.20" font-size="7.4" text-anchor="start" fill="#1e1e1e" stroke="#1e1e1e" stroke-width="0.14" textLength="63.2" lengthAdjust="spacingAndGlyphs">Individual predicted</text>
<text x="257.70" y="190.00" font-size="11.5" font-weight="bold" text-anchor="start" fill="#111" stroke="#111" stroke-width="0.05">D</text>
<line x1="302.50" y1="194.20" x2="302.50" y2="359.40" stroke="#2a2a2a" stroke-width="1.1"/>
<line x1="298.00" y1="194.20" x2="302.50" y2="194.20" stroke="#2a2a2a" stroke-width="1"/>
<text x="296.20" y="196.70" font-size="7.1" text-anchor="end" fill="#1e1e1e" stroke="#1e1e1e" stroke-width="0.14">4</text>
<line x1="298.00" y1="236.40" x2="302.50" y2="236.40" stroke="#2a2a2a" stroke-width="1"/>
<text x="296.20" y="238.90" font-size="7.1" text-anchor="end" fill="#1e1e1e" stroke="#1e1e1e" stroke-width="0.14">3</text>
<line x1="298.00" y1="278.60" x2="302.50" y2="278.60" stroke="#2a2a2a" stroke-width="1"/>
<text x="296.20" y="281.10" font-size="7.1" text-anchor="end" fill="#1e1e1e" stroke="#1e1e1e" stroke-width="0.14">2</text>
<line x1="298.00" y1="320.80" x2="302.50" y2="320.80" stroke="#2a2a2a" stroke-width="1"/>
<text x="296.20" y="323.30" font-size="7.1" text-anchor="end" fill="#1e1e1e" stroke="#1e1e1e" stroke-width="0.14">1</text>
<line x1="298.00" y1="359.40" x2="302.50" y2="359.40" stroke="#2a2a2a" stroke-width="1"/>
<text x="296.20" y="361.90" font-size="7.1" text-anchor="end" fill="#1e1e1e" stroke="#1e1e1e" stroke-width="0.14">0.1</text>
<line x1="308.70" y1="365.80" x2="496.18" y2="365.80" stroke="#2a2a2a" stroke-width="1.1"/>
<line x1="309.40" y1="365.80" x2="309.40" y2="370.30" stroke="#2a2a2a" stroke-width="1"/>
<text x="309.40" y="380.90" font-size="7.1" text-anchor="middle" fill="#1e1e1e" stroke="#1e1e1e" stroke-width="0.14">0</text>
<line x1="340.38" y1="365.80" x2="340.38" y2="370.30" stroke="#2a2a2a" stroke-width="1"/>
<text x="340.38" y="380.90" font-size="7.1" text-anchor="middle" fill="#1e1e1e" stroke="#1e1e1e" stroke-width="0.14">0.01</text>
<line x1="371.44" y1="365.80" x2="371.44" y2="370.30" stroke="#2a2a2a" stroke-width="1"/>
<text x="371.44" y="380.90" font-size="7.1" text-anchor="middle" fill="#1e1e1e" stroke="#1e1e1e" stroke-width="0.14">0.1</text>
<line x1="402.50" y1="365.80" x2="402.50" y2="370.30" stroke="#2a2a2a" stroke-width="1"/>
<text x="402.50" y="380.90" font-size="7.1" text-anchor="middle" fill="#1e1e1e" stroke="#1e1e1e" stroke-width="0.14">1</text>
<line x1="433.56" y1="365.80" x2="433.56" y2="370.30" stroke="#2a2a2a" stroke-width="1"/>
<text x="433.56" y="380.90" font-size="7.1" text-anchor="middle" fill="#1e1e1e" stroke="#1e1e1e" stroke-width="0.14">10</text>
<line x1="464.62" y1="365.80" x2="464.62" y2="370.30" stroke="#2a2a2a" stroke-width="1"/>
<text x="464.62" y="380.90" font-size="7.1" text-anchor="middle" fill="#1e1e1e" stroke="#1e1e1e" stroke-width="0.14">100</text>
<line x1="495.68" y1="365.80" x2="495.68" y2="370.30" stroke="#2a2a2a" stroke-width="1"/>
<text x="495.68" y="380.90" font-size="7.1" text-anchor="middle" fill="#1e1e1e" stroke="#1e1e1e" stroke-width="0.14">1,000</text>
<text x="313.60" y="391.00" font-size="7.4" text-anchor="start" fill="#1e1e1e" stroke="#1e1e1e" stroke-width="0.14" textLength="179.0" lengthAdjust="spacingAndGlyphs">Predicted pembrolizumab serum concentration (µg/mL)</text>
<text x="282.30" y="305.40" font-size="7.4" text-anchor="start" fill="#1e1e1e" stroke="#1e1e1e" stroke-width="0.14" transform="rotate(-90 282.30 305.40)" textLength="64.8" lengthAdjust="spacingAndGlyphs">IL2 stimulation ratio</text>
<line x1="309.60" y1="196.60" x2="309.60" y2="360.00" stroke="#444" stroke-width="0.8" stroke-dasharray="1.6 1.2"/>
<text x="318.50" y="354.80" font-size="7.3" text-anchor="start" fill="#1e1e1e" stroke="#1e1e1e" stroke-width="0.14" transform="rotate(-90 318.50 354.80)" textLength="50.9" lengthAdjust="spacingAndGlyphs">Baseline values</text>
<polyline points="330.20,274.66 331.68,274.70 333.15,274.74 334.63,274.79 336.11,274.84 337.59,274.90 339.07,274.96 340.55,275.03 342.03,275.12 343.51,275.21 344.99,275.31 346.47,275.43 347.95,275.56 349.43,275.71 350.91,275.87 352.39,276.06 353.87,276.27 355.35,276.50 356.83,276.76 358.31,277.04 359.79,277.37 361.27,277.72 362.75,278.12 364.23,278.55 365.71,279.04 367.19,279.57 368.67,280.16 370.15,280.80 371.63,281.50 373.11,282.27 374.59,283.10 376.07,283.99 377.55,284.95 379.03,285.98 380.51,287.08 381.99,288.24 383.47,289.47 384.94,290.75 386.42,292.08 387.90,293.45 389.38,294.86 390.86,296.29 392.34,297.75 393.82,299.20 395.30,300.65 396.78,302.09 398.26,303.50 399.74,304.88 401.22,306.22 402.70,307.50 404.18,308.73 405.66,309.90 407.14,311.00 408.62,312.03 410.10,313.00 411.58,313.91 413.06,314.74 414.54,315.51 416.02,316.22 417.50,316.87 418.98,317.46 420.46,317.99 421.94,318.48 423.42,318.92 424.90,319.32 426.38,319.68 427.86,320.01 429.34,320.30 430.82,320.56 432.30,320.79 433.78,320.88 435.26,320.96 436.74,321.02 438.21,321.08 439.69,321.14 441.17,321.18 442.65,321.23 444.13,321.27 445.61,321.30 447.09,321.33 448.57,321.36 450.05,321.38 451.53,321.40 453.01,321.42 454.49,321.44 455.97,321.45 457.45,321.47 458.93,321.48 460.41,321.49 461.89,321.50 463.37,321.51 464.85,321.51 466.33,321.52 467.81,321.53 469.29,321.53 470.77,321.54 472.25,321.54 473.73,321.54 475.21,321.55 476.69,321.55 478.17,321.55" fill="none" stroke="#222" stroke-width="1.1" stroke-linejoin="round"/>
<circle cx="439.20" cy="194.50" r="1.5" fill="#aaa" stroke="#444" stroke-width="0.7"/>
<text x="445.60" y="197.10" font-size="7.5" text-anchor="start" fill="#1e1e1e" stroke="#1e1e1e" stroke-width="0.14">0.005 mg/kg</text>
<path d="M439.20,200.34 L441.10,203.57 L437.30,203.57 Z" fill="none" stroke="#3a3a3a" stroke-width="0.75"/>
<text x="445.60" y="204.84" font-size="7.5" text-anchor="start" fill="#1e1e1e" stroke="#1e1e1e" stroke-width="0.14">0.02 mg/kg</text>
<path d="M437.00,209.98 H441.40 M439.20,207.78 V212.18" stroke="#3a3a3a" stroke-width="0.8"/>
<text x="445.60" y="212.58" font-size="7.5" text-anchor="start" fill="#1e1e1e" stroke="#1e1e1e" stroke-width="0.14">0.06 mg/kg</text>
<path d="M437.50,216.02 L440.90,219.42 M440.90,216.02 L437.50,219.42" stroke="#3a3a3a" stroke-width="0.8"/>
<text x="445.60" y="220.32" font-size="7.5" text-anchor="start" fill="#1e1e1e" stroke="#1e1e1e" stroke-width="0.14">0.3 mg/kg</text>
<path d="M439.20,223.36 L441.30,225.46 L439.20,227.56 L437.10,225.46 Z" fill="none" stroke="#3a3a3a" stroke-width="0.75"/>
<text x="445.60" y="228.06" font-size="7.5" text-anchor="start" fill="#1e1e1e" stroke="#1e1e1e" stroke-width="0.14">1 mg/kg</text>
<path d="M439.20,235.10 L441.10,231.87 L437.30,231.87 Z" fill="none" stroke="#3a3a3a" stroke-width="0.75"/>
<text x="445.60" y="235.80" font-size="7.5" text-anchor="start" fill="#1e1e1e" stroke="#1e1e1e" stroke-width="0.14">2 mg/kg</text>
<rect x="437.70" y="239.44" width="3.00" height="3.00" fill="#444" stroke="#333" stroke-width="0.4"/>
<text x="445.60" y="243.54" font-size="7.5" text-anchor="start" fill="#1e1e1e" stroke="#1e1e1e" stroke-width="0.14">3 mg/kg</text>
<circle cx="439.20" cy="248.68" r="1.4" fill="#222" stroke="#222" stroke-width="0.4"/>
<text x="445.60" y="251.28" font-size="7.5" text-anchor="start" fill="#1e1e1e" stroke="#1e1e1e" stroke-width="0.14">10 mg/kg</text>
<path d="M309.60,200.52 L311.88,204.40 L307.32,204.40 Z" fill="none" stroke="#3a3a3a" stroke-width="0.75"/>
<path d="M307.40,236.70 H311.80 M309.60,234.50 V238.90" stroke="#3a3a3a" stroke-width="0.8"/>
<circle cx="309.60" cy="253.40" r="1.5" fill="#aaa" stroke="#444" stroke-width="0.7"/>
<circle cx="309.60" cy="258.40" r="1.4" fill="#222" stroke="#222" stroke-width="0.4"/>
<rect x="308.10" y="259.90" width="3.00" height="3.00" fill="#444" stroke="#333" stroke-width="0.4"/>
<path d="M309.60,261.70 L311.70,263.80 L309.60,265.90 L307.50,263.80 Z" fill="none" stroke="#3a3a3a" stroke-width="0.75"/>
<path d="M309.60,264.90 L311.50,268.13 L307.70,268.13 Z" fill="none" stroke="#3a3a3a" stroke-width="0.75"/>
<path d="M309.60,267.70 L311.70,269.80 L309.60,271.90 L307.50,269.80 Z" fill="none" stroke="#3a3a3a" stroke-width="0.75"/>
<path d="M309.60,270.90 L311.50,274.13 L307.70,274.13 Z" fill="none" stroke="#3a3a3a" stroke-width="0.75"/>
<path d="M309.60,273.70 L311.70,275.80 L309.60,277.90 L307.50,275.80 Z" fill="none" stroke="#3a3a3a" stroke-width="0.75"/>
<path d="M309.60,276.90 L311.50,280.13 L307.70,280.13 Z" fill="none" stroke="#3a3a3a" stroke-width="0.75"/>
<path d="M309.60,279.70 L311.70,281.80 L309.60,283.90 L307.50,281.80 Z" fill="none" stroke="#3a3a3a" stroke-width="0.75"/>
<path d="M309.60,286.70 L311.50,283.47 L307.70,283.47 Z" fill="none" stroke="#3a3a3a" stroke-width="0.75"/>
<path d="M309.60,285.50 L311.70,287.60 L309.60,289.70 L307.50,287.60 Z" fill="none" stroke="#3a3a3a" stroke-width="0.75"/>
<rect x="308.10" y="293.30" width="3.00" height="3.00" fill="#444" stroke="#333" stroke-width="0.4"/>
<circle cx="309.60" cy="299.10" r="1.4" fill="#222" stroke="#222" stroke-width="0.4"/>
<circle cx="309.60" cy="304.20" r="1.4" fill="#222" stroke="#222" stroke-width="0.4"/>
<path d="M307.40,308.90 H311.80 M309.60,306.70 V311.10" stroke="#3a3a3a" stroke-width="0.8"/>
<circle cx="309.60" cy="320.80" r="1.5" fill="#aaa" stroke="#444" stroke-width="0.7"/>
<path d="M327.00,260.00 L330.40,263.40 M330.40,260.00 L327.00,263.40" stroke="#3a3a3a" stroke-width="0.8"/>
<path d="M325.60,276.70 L329.00,280.10 M329.00,276.70 L325.60,280.10" stroke="#3a3a3a" stroke-width="0.8"/>
<path d="M330.20,272.60 L333.60,276.00 M333.60,272.60 L330.20,276.00" stroke="#3a3a3a" stroke-width="0.8"/>
<path d="M340.50,272.60 L343.90,276.00 M343.90,272.60 L340.50,276.00" stroke="#3a3a3a" stroke-width="0.8"/>
<path d="M354.20,251.30 L357.60,254.70 M357.60,251.30 L354.20,254.70" stroke="#3a3a3a" stroke-width="0.8"/>
<circle cx="369.90" cy="248.70" r="1.5" fill="#aaa" stroke="#444" stroke-width="0.7"/>
<circle cx="365.10" cy="274.80" r="1.5" fill="#aaa" stroke="#444" stroke-width="0.7"/>
<circle cx="372.60" cy="291.50" r="1.5" fill="#aaa" stroke="#444" stroke-width="0.7"/>
<path d="M386.40,284.80 L388.50,286.90 L386.40,289.00 L384.30,286.90 Z" fill="none" stroke="#3a3a3a" stroke-width="0.75"/>
<path d="M383.50,297.90 L385.40,301.13 L381.60,301.13 Z" fill="none" stroke="#3a3a3a" stroke-width="0.75"/>
<path d="M384.70,302.50 L388.10,305.90 M388.10,302.50 L384.70,305.90" stroke="#3a3a3a" stroke-width="0.8"/>
<path d="M369.80,306.90 L373.20,310.30 M373.20,306.90 L369.80,310.30" stroke="#3a3a3a" stroke-width="0.8"/>
<circle cx="365.80" cy="317.10" r="1.5" fill="#aaa" stroke="#444" stroke-width="0.7"/>
<circle cx="396.00" cy="308.40" r="1.6" fill="#fff" stroke="#222" stroke-width="1.1"/>
<path d="M402.10,306.00 L404.00,309.23 L400.20,309.23 Z" fill="none" stroke="#3a3a3a" stroke-width="0.75"/>
<path d="M389.90,310.40 L391.80,313.63 L388.00,313.63 Z" fill="none" stroke="#3a3a3a" stroke-width="0.75"/>
<path d="M398.30,314.80 L400.40,316.90 L398.30,319.00 L396.20,316.90 Z" fill="none" stroke="#3a3a3a" stroke-width="0.75"/>
<path d="M396.80,325.40 H401.20 M399.00,323.20 V327.60" stroke="#3a3a3a" stroke-width="0.8"/>
<circle cx="404.40" cy="299.80" r="1.6" fill="#fff" stroke="#222" stroke-width="1.1"/>
<path d="M406.70,299.80 H411.10 M408.90,297.60 V302.00" stroke="#3a3a3a" stroke-width="0.8"/>
<path d="M407.70,305.50 L409.60,302.27 L405.80,302.27 Z" fill="none" stroke="#3a3a3a" stroke-width="0.75"/>
<path d="M407.20,306.00 L410.60,309.40 M410.60,306.00 L407.20,309.40" stroke="#3a3a3a" stroke-width="0.8"/>
<circle cx="414.70" cy="299.80" r="1.6" fill="#fff" stroke="#222" stroke-width="1.1"/>
<path d="M413.10,295.20 H417.50 M415.30,293.00 V297.40" stroke="#3a3a3a" stroke-width="0.8"/>
<path d="M412.30,306.30 L414.20,303.07 L410.40,303.07 Z" fill="none" stroke="#3a3a3a" stroke-width="0.75"/>
<path d="M413.60,304.40 H418.00 M415.80,302.20 V306.60" stroke="#3a3a3a" stroke-width="0.8"/>
<path d="M423.40,301.70 L425.30,298.47 L421.50,298.47 Z" fill="none" stroke="#3a3a3a" stroke-width="0.75"/>
<path d="M407.00,312.00 H411.40 M409.20,309.80 V314.20" stroke="#3a3a3a" stroke-width="0.8"/>
<path d="M429.00,310.20 L431.10,312.30 L429.00,314.40 L426.90,312.30 Z" fill="none" stroke="#3a3a3a" stroke-width="0.75"/>
<path d="M435.60,310.20 L437.70,312.30 L435.60,314.40 L433.50,312.30 Z" fill="none" stroke="#3a3a3a" stroke-width="0.75"/>
<path d="M437.60,310.10 L439.50,306.87 L435.70,306.87 Z" fill="none" stroke="#3a3a3a" stroke-width="0.75"/>
<circle cx="433.30" cy="316.50" r="1.4" fill="#222" stroke="#222" stroke-width="0.4"/>
<path d="M420.80,318.70 L422.90,320.80 L420.80,322.90 L418.70,320.80 Z" fill="none" stroke="#3a3a3a" stroke-width="0.75"/>
<path d="M424.20,318.70 L426.30,320.80 L424.20,322.90 L422.10,320.80 Z" fill="none" stroke="#3a3a3a" stroke-width="0.75"/>
<path d="M424.20,323.30 L426.30,325.40 L424.20,327.50 L422.10,325.40 Z" fill="none" stroke="#3a3a3a" stroke-width="0.75"/>
<path d="M427.50,326.90 L429.60,329.00 L427.50,331.10 L425.40,329.00 Z" fill="none" stroke="#3a3a3a" stroke-width="0.75"/>
<path d="M431.60,319.10 L433.70,321.20 L431.60,323.30 L429.50,321.20 Z" fill="none" stroke="#3a3a3a" stroke-width="0.75"/>
<path d="M438.10,323.50 L440.20,325.60 L438.10,327.70 L436.00,325.60 Z" fill="none" stroke="#3a3a3a" stroke-width="0.75"/>
<path d="M441.90,323.50 L444.00,325.60 L441.90,327.70 L439.80,325.60 Z" fill="none" stroke="#3a3a3a" stroke-width="0.75"/>
<rect x="448.00" y="302.50" width="3.00" height="3.00" fill="#444" stroke="#333" stroke-width="0.4"/>
<path d="M447.40,310.00 L449.30,306.77 L445.50,306.77 Z" fill="none" stroke="#3a3a3a" stroke-width="0.75"/>
<rect x="447.80" y="311.10" width="3.00" height="3.00" fill="#444" stroke="#333" stroke-width="0.4"/>
<rect x="440.40" y="315.00" width="3.00" height="3.00" fill="#444" stroke="#333" stroke-width="0.4"/>
<rect x="437.60" y="319.90" width="3.00" height="3.00" fill="#444" stroke="#333" stroke-width="0.4"/>
<circle cx="444.00" cy="321.40" r="1.4" fill="#222" stroke="#222" stroke-width="0.4"/>
<rect x="450.10" y="319.90" width="3.00" height="3.00" fill="#444" stroke="#333" stroke-width="0.4"/>
<rect x="455.00" y="319.90" width="3.00" height="3.00" fill="#444" stroke="#333" stroke-width="0.4"/>
<circle cx="461.40" cy="321.40" r="1.4" fill="#222" stroke="#222" stroke-width="0.4"/>
<circle cx="471.90" cy="321.40" r="1.4" fill="#222" stroke="#222" stroke-width="0.4"/>
<circle cx="478.10" cy="325.60" r="1.4" fill="#222" stroke="#222" stroke-width="0.4"/>
<rect x="453.30" y="324.10" width="3.00" height="3.00" fill="#444" stroke="#333" stroke-width="0.4"/>
<circle cx="461.40" cy="325.60" r="1.4" fill="#222" stroke="#222" stroke-width="0.4"/>
<circle cx="450.90" cy="329.80" r="1.4" fill="#222" stroke="#222" stroke-width="0.4"/>
<rect x="457.10" y="328.30" width="3.00" height="3.00" fill="#444" stroke="#333" stroke-width="0.4"/>
<circle cx="461.80" cy="329.80" r="1.4" fill="#222" stroke="#222" stroke-width="0.4"/>
<rect x="463.50" y="328.30" width="3.00" height="3.00" fill="#444" stroke="#333" stroke-width="0.4"/>
<circle cx="468.40" cy="329.80" r="1.4" fill="#222" stroke="#222" stroke-width="0.4"/>
<rect x="454.30" y="332.50" width="3.00" height="3.00" fill="#444" stroke="#333" stroke-width="0.4"/>
<rect x="437.20" y="336.60" width="3.00" height="3.00" fill="#444" stroke="#333" stroke-width="0.4"/>
</svg>
</body></html>
